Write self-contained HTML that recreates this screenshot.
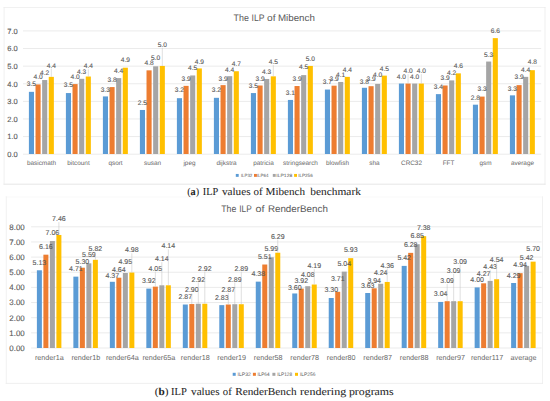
<!DOCTYPE html>
<html><head><meta charset="utf-8"><title>ILP charts</title>
<style>
html,body{margin:0;padding:0;background:#fff;width:550px;height:401px;overflow:hidden;}
svg{display:block;font-family:"Liberation Sans",sans-serif;text-rendering:geometricPrecision;}
text.v{stroke:#595959;stroke-width:0.12px;}

text.cap{stroke:#1f1f1f;stroke-width:0.06px;}
</style></head>
<body>
<svg width="550" height="401" viewBox="0 0 550 401">
<rect x="0" y="0" width="550" height="401" fill="#fff"/>
<line x1="4.1" y1="7.5" x2="545" y2="7.5" stroke="#EDEDED" stroke-width="0.8" stroke-linecap="square"/>
<line x1="545" y1="7.5" x2="545" y2="184.2" stroke="#EBEBEB" stroke-width="0.8" stroke-linecap="square"/>
<line x1="4.1" y1="184.2" x2="545" y2="184.2" stroke="#E0E0E0" stroke-width="0.8" stroke-linecap="square"/>
<line x1="4.1" y1="7.5" x2="4.1" y2="184.2" stroke="#EDEDED" stroke-width="0.8" stroke-linecap="square"/>
<line x1="23" y1="154.2" x2="541.2" y2="154.2" stroke="#EBEBEB" stroke-width="1"/>
<text class="v" x="17.7" y="157" font-size="7.5" text-anchor="end" fill="#595959">0.0</text>
<line x1="23" y1="136.59" x2="541.2" y2="136.59" stroke="#EBEBEB" stroke-width="1"/>
<text class="v" x="17.7" y="139.39" font-size="7.5" text-anchor="end" fill="#595959">1.0</text>
<line x1="23" y1="118.98" x2="541.2" y2="118.98" stroke="#EBEBEB" stroke-width="1"/>
<text class="v" x="17.7" y="121.78" font-size="7.5" text-anchor="end" fill="#595959">2.0</text>
<line x1="23" y1="101.37" x2="541.2" y2="101.37" stroke="#EBEBEB" stroke-width="1"/>
<text class="v" x="17.7" y="104.17" font-size="7.5" text-anchor="end" fill="#595959">3.0</text>
<line x1="23" y1="83.76" x2="541.2" y2="83.76" stroke="#EBEBEB" stroke-width="1"/>
<text class="v" x="17.7" y="86.56" font-size="7.5" text-anchor="end" fill="#595959">4.0</text>
<line x1="23" y1="66.15" x2="541.2" y2="66.15" stroke="#EBEBEB" stroke-width="1"/>
<text class="v" x="17.7" y="68.95" font-size="7.5" text-anchor="end" fill="#595959">5.0</text>
<line x1="23" y1="48.54" x2="541.2" y2="48.54" stroke="#EBEBEB" stroke-width="1"/>
<text class="v" x="17.7" y="51.34" font-size="7.5" text-anchor="end" fill="#595959">6.0</text>
<line x1="23" y1="30.93" x2="541.2" y2="30.93" stroke="#EBEBEB" stroke-width="1"/>
<text class="v" x="17.7" y="33.73" font-size="7.5" text-anchor="end" fill="#595959">7.0</text>
<text x="233.6" y="20.9" font-size="9.5" fill="#595959" textLength="15.29" lengthAdjust="spacingAndGlyphs">The</text>
<text x="251.6" y="20.9" font-size="9.5" fill="#595959" textLength="12.95" lengthAdjust="spacingAndGlyphs">ILP</text>
<text x="266.97" y="20.9" font-size="9.5" fill="#595959" textLength="8.51" lengthAdjust="spacingAndGlyphs">of</text>
<text x="278" y="20.9" font-size="9.5" fill="#595959" textLength="36.83" lengthAdjust="spacingAndGlyphs">Mibench</text>
<rect x="28.9" y="91.84" width="5.1" height="62.16" fill="#5B9BD5"/>
<rect x="35.52" y="84.44" width="5.1" height="69.56" fill="#ED7D31"/>
<rect x="42.14" y="80.04" width="5.1" height="73.96" fill="#A5A5A5"/>
<rect x="48.76" y="76.87" width="5.1" height="77.13" fill="#FFC000"/>
<text x="41.5" y="165.3" font-size="6.4" text-anchor="middle" fill="#686868">basicmath</text>
<rect x="65.9" y="93.07" width="5.1" height="60.93" fill="#5B9BD5"/>
<rect x="72.52" y="84.09" width="5.1" height="69.91" fill="#ED7D31"/>
<rect x="79.14" y="78.81" width="5.1" height="75.19" fill="#A5A5A5"/>
<rect x="85.76" y="76.52" width="5.1" height="77.48" fill="#FFC000"/>
<text x="78.5" y="165.3" font-size="6.4" text-anchor="middle" fill="#686868">bitcount</text>
<rect x="102.9" y="96.42" width="5.1" height="57.58" fill="#5B9BD5"/>
<rect x="109.52" y="87.08" width="5.1" height="66.92" fill="#ED7D31"/>
<rect x="116.14" y="78.1" width="5.1" height="75.9" fill="#A5A5A5"/>
<rect x="122.76" y="67.71" width="5.1" height="86.29" fill="#FFC000"/>
<text x="115.5" y="165.3" font-size="6.4" text-anchor="middle" fill="#686868">qsort</text>
<rect x="139.9" y="109.97" width="5.1" height="44.03" fill="#5B9BD5"/>
<rect x="146.52" y="70.35" width="5.1" height="83.65" fill="#ED7D31"/>
<rect x="153.14" y="66.3" width="5.1" height="87.7" fill="#A5A5A5"/>
<rect x="159.76" y="65.95" width="5.1" height="88.05" fill="#FFC000"/>
<text x="152.5" y="165.3" font-size="6.4" text-anchor="middle" fill="#686868">susan</text>
<rect x="176.9" y="98.18" width="5.1" height="55.82" fill="#5B9BD5"/>
<rect x="183.52" y="85.85" width="5.1" height="68.15" fill="#ED7D31"/>
<rect x="190.14" y="75.46" width="5.1" height="78.54" fill="#A5A5A5"/>
<rect x="196.76" y="68.42" width="5.1" height="85.58" fill="#FFC000"/>
<text x="189.5" y="165.3" font-size="6.4" text-anchor="middle" fill="#686868">jpeg</text>
<rect x="213.9" y="97.82" width="5.1" height="56.18" fill="#5B9BD5"/>
<rect x="220.52" y="85.14" width="5.1" height="68.86" fill="#ED7D31"/>
<rect x="227.14" y="76.16" width="5.1" height="77.84" fill="#A5A5A5"/>
<rect x="233.76" y="71.23" width="5.1" height="82.77" fill="#FFC000"/>
<text x="226.5" y="165.3" font-size="6.4" text-anchor="middle" fill="#686868">dijkstra</text>
<rect x="250.9" y="93.07" width="5.1" height="60.93" fill="#5B9BD5"/>
<rect x="257.52" y="85.5" width="5.1" height="68.5" fill="#ED7D31"/>
<rect x="264.14" y="78.98" width="5.1" height="75.02" fill="#A5A5A5"/>
<rect x="270.76" y="76.34" width="5.1" height="77.66" fill="#FFC000"/>
<text x="263.5" y="165.3" font-size="6.4" text-anchor="middle" fill="#686868">patricia</text>
<rect x="287.9" y="99.94" width="5.1" height="54.06" fill="#5B9BD5"/>
<rect x="294.52" y="86.03" width="5.1" height="67.97" fill="#ED7D31"/>
<rect x="301.14" y="75.11" width="5.1" height="78.89" fill="#A5A5A5"/>
<rect x="307.76" y="65.95" width="5.1" height="88.05" fill="#FFC000"/>
<text x="300.5" y="165.3" font-size="6.4" text-anchor="middle" fill="#686868">stringsearch</text>
<rect x="324.9" y="89.55" width="5.1" height="64.45" fill="#5B9BD5"/>
<rect x="331.52" y="85.67" width="5.1" height="68.33" fill="#ED7D31"/>
<rect x="338.14" y="81.98" width="5.1" height="72.02" fill="#A5A5A5"/>
<rect x="344.76" y="76.87" width="5.1" height="77.13" fill="#FFC000"/>
<text x="337.5" y="165.3" font-size="6.4" text-anchor="middle" fill="#686868">blowfish</text>
<rect x="361.9" y="87.79" width="5.1" height="66.21" fill="#5B9BD5"/>
<rect x="368.52" y="86.2" width="5.1" height="67.8" fill="#ED7D31"/>
<rect x="375.14" y="83.91" width="5.1" height="70.09" fill="#A5A5A5"/>
<rect x="381.76" y="75.64" width="5.1" height="78.36" fill="#FFC000"/>
<text x="374.5" y="165.3" font-size="6.4" text-anchor="middle" fill="#686868">sha</text>
<rect x="398.9" y="83.56" width="5.1" height="70.44" fill="#5B9BD5"/>
<rect x="405.52" y="83.56" width="5.1" height="70.44" fill="#ED7D31"/>
<rect x="412.14" y="83.56" width="5.1" height="70.44" fill="#A5A5A5"/>
<rect x="418.76" y="83.56" width="5.1" height="70.44" fill="#FFC000"/>
<text x="411.5" y="165.3" font-size="6.4" text-anchor="middle" fill="#686868">CRC32</text>
<rect x="435.9" y="94.13" width="5.1" height="59.87" fill="#5B9BD5"/>
<rect x="442.52" y="85.5" width="5.1" height="68.5" fill="#ED7D31"/>
<rect x="449.14" y="80.39" width="5.1" height="73.61" fill="#A5A5A5"/>
<rect x="455.76" y="73.35" width="5.1" height="80.65" fill="#FFC000"/>
<text x="448.5" y="165.3" font-size="6.4" text-anchor="middle" fill="#686868">FFT</text>
<rect x="472.9" y="104.69" width="5.1" height="49.31" fill="#5B9BD5"/>
<rect x="479.52" y="96.59" width="5.1" height="57.41" fill="#ED7D31"/>
<rect x="486.14" y="61.55" width="5.1" height="92.45" fill="#A5A5A5"/>
<rect x="492.76" y="38.13" width="5.1" height="115.87" fill="#FFC000"/>
<text x="485.5" y="165.3" font-size="6.4" text-anchor="middle" fill="#686868">gsm</text>
<rect x="509.9" y="95.36" width="5.1" height="58.64" fill="#5B9BD5"/>
<rect x="516.52" y="85.14" width="5.1" height="68.86" fill="#ED7D31"/>
<rect x="523.14" y="76.87" width="5.1" height="77.13" fill="#A5A5A5"/>
<rect x="529.76" y="70.18" width="5.1" height="83.82" fill="#FFC000"/>
<text x="522.5" y="165.3" font-size="6.4" text-anchor="middle" fill="#686868">average</text>
<text class="v" x="31.45" y="86.3" font-size="6.6" text-anchor="middle" fill="#595959">3.5</text>
<text class="v" x="38.07" y="79.3" font-size="6.6" text-anchor="middle" fill="#595959">4.0</text>
<text class="v" x="44.69" y="74.5" font-size="6.6" text-anchor="middle" fill="#595959">4.2</text>
<line x1="51.31" y1="68.6" x2="51.31" y2="76.87" stroke="#BFBFBF" stroke-width="0.5"/>
<text class="v" x="51.31" y="67.7" font-size="6.6" text-anchor="middle" fill="#595959">4.4</text>
<text class="v" x="68.45" y="87.3" font-size="6.6" text-anchor="middle" fill="#595959">3.5</text>
<text class="v" x="75.07" y="78.6" font-size="6.6" text-anchor="middle" fill="#595959">4.0</text>
<text class="v" x="81.69" y="74.2" font-size="6.6" text-anchor="middle" fill="#595959">4.3</text>
<line x1="88.31" y1="69.3" x2="88.31" y2="76.52" stroke="#BFBFBF" stroke-width="0.5"/>
<text class="v" x="88.31" y="68.4" font-size="6.6" text-anchor="middle" fill="#595959">4.4</text>
<text class="v" x="105.45" y="91.7" font-size="6.6" text-anchor="middle" fill="#595959">3.3</text>
<text class="v" x="112.07" y="81.5" font-size="6.6" text-anchor="middle" fill="#595959">3.8</text>
<text class="v" x="118.69" y="72.5" font-size="6.6" text-anchor="middle" fill="#595959">4.4</text>
<text class="v" x="125.31" y="62" font-size="6.6" text-anchor="middle" fill="#595959">4.9</text>
<text class="v" x="142.45" y="104.5" font-size="6.6" text-anchor="middle" fill="#595959">2.5</text>
<text class="v" x="149.07" y="65.3" font-size="6.6" text-anchor="middle" fill="#595959">4.8</text>
<text class="v" x="155.69" y="60.2" font-size="6.6" text-anchor="middle" fill="#595959">5.0</text>
<line x1="162.31" y1="47.8" x2="162.31" y2="65.95" stroke="#BFBFBF" stroke-width="0.5"/>
<text class="v" x="162.31" y="46.9" font-size="6.6" text-anchor="middle" fill="#595959">5.0</text>
<text class="v" x="179.45" y="92.1" font-size="6.6" text-anchor="middle" fill="#595959">3.2</text>
<text class="v" x="186.07" y="81" font-size="6.6" text-anchor="middle" fill="#595959">3.9</text>
<text class="v" x="192.69" y="70.4" font-size="6.6" text-anchor="middle" fill="#595959">4.5</text>
<text class="v" x="199.31" y="63.5" font-size="6.6" text-anchor="middle" fill="#595959">4.9</text>
<text class="v" x="216.45" y="92.1" font-size="6.6" text-anchor="middle" fill="#595959">3.2</text>
<text class="v" x="223.07" y="80.7" font-size="6.6" text-anchor="middle" fill="#595959">3.9</text>
<text class="v" x="229.69" y="71.5" font-size="6.6" text-anchor="middle" fill="#595959">4.4</text>
<text class="v" x="236.31" y="65.7" font-size="6.6" text-anchor="middle" fill="#595959">4.7</text>
<text class="v" x="253.45" y="88.2" font-size="6.6" text-anchor="middle" fill="#595959">3.5</text>
<text class="v" x="260.07" y="80.7" font-size="6.6" text-anchor="middle" fill="#595959">3.9</text>
<text class="v" x="266.69" y="73.7" font-size="6.6" text-anchor="middle" fill="#595959">4.3</text>
<line x1="273.31" y1="65.1" x2="273.31" y2="76.34" stroke="#BFBFBF" stroke-width="0.5"/>
<text class="v" x="273.31" y="64.2" font-size="6.6" text-anchor="middle" fill="#595959">4.5</text>
<text class="v" x="290.45" y="94.7" font-size="6.6" text-anchor="middle" fill="#595959">3.1</text>
<text class="v" x="297.07" y="80.7" font-size="6.6" text-anchor="middle" fill="#595959">3.9</text>
<text class="v" x="303.69" y="69.3" font-size="6.6" text-anchor="middle" fill="#595959">4.5</text>
<text class="v" x="310.31" y="60.6" font-size="6.6" text-anchor="middle" fill="#595959">5.0</text>
<text class="v" x="327.45" y="84.3" font-size="6.6" text-anchor="middle" fill="#595959">3.7</text>
<text class="v" x="334.07" y="80.5" font-size="6.6" text-anchor="middle" fill="#595959">3.9</text>
<text class="v" x="340.69" y="77" font-size="6.6" text-anchor="middle" fill="#595959">4.1</text>
<text class="v" x="347.31" y="71.5" font-size="6.6" text-anchor="middle" fill="#595959">4.4</text>
<text class="v" x="364.45" y="84.3" font-size="6.6" text-anchor="middle" fill="#595959">3.8</text>
<text class="v" x="371.07" y="81.4" font-size="6.6" text-anchor="middle" fill="#595959">3.9</text>
<text class="v" x="377.69" y="77.3" font-size="6.6" text-anchor="middle" fill="#595959">4.0</text>
<text class="v" x="384.31" y="71.2" font-size="6.6" text-anchor="middle" fill="#595959">4.5</text>
<text class="v" x="401.45" y="79.1" font-size="6.6" text-anchor="middle" fill="#595959">4.0</text>
<line x1="408.07" y1="74.2" x2="408.07" y2="83.56" stroke="#BFBFBF" stroke-width="0.5"/>
<text class="v" x="408.07" y="73.3" font-size="6.6" text-anchor="middle" fill="#595959">4.0</text>
<text class="v" x="414.69" y="79.1" font-size="6.6" text-anchor="middle" fill="#595959">4.0</text>
<line x1="421.31" y1="74.2" x2="421.31" y2="83.56" stroke="#BFBFBF" stroke-width="0.5"/>
<text class="v" x="421.31" y="73.3" font-size="6.6" text-anchor="middle" fill="#595959">4.0</text>
<text class="v" x="438.45" y="89" font-size="6.6" text-anchor="middle" fill="#595959">3.4</text>
<text class="v" x="445.07" y="80.2" font-size="6.6" text-anchor="middle" fill="#595959">3.9</text>
<text class="v" x="451.69" y="74.9" font-size="6.6" text-anchor="middle" fill="#595959">4.2</text>
<text class="v" x="458.31" y="67.6" font-size="6.6" text-anchor="middle" fill="#595959">4.6</text>
<text class="v" x="475.45" y="100.1" font-size="6.6" text-anchor="middle" fill="#595959">2.8</text>
<text class="v" x="482.07" y="91" font-size="6.6" text-anchor="middle" fill="#595959">3.3</text>
<text class="v" x="488.69" y="57" font-size="6.6" text-anchor="middle" fill="#595959">5.3</text>
<text class="v" x="495.31" y="33.1" font-size="6.6" text-anchor="middle" fill="#595959">6.6</text>
<text class="v" x="512.45" y="90.5" font-size="6.6" text-anchor="middle" fill="#595959">3.3</text>
<text class="v" x="519.07" y="79.3" font-size="6.6" text-anchor="middle" fill="#595959">3.9</text>
<text class="v" x="525.69" y="72.1" font-size="6.6" text-anchor="middle" fill="#595959">4.4</text>
<text class="v" x="532.31" y="64.4" font-size="6.6" text-anchor="middle" fill="#595959">4.8</text>
<rect x="235.8" y="173.95" width="2.9" height="2.9" fill="#5B9BD5"/>
<text x="240.9" y="177.46" font-size="4.6" fill="#595959" textLength="11.32" lengthAdjust="spacingAndGlyphs">ILP32</text>
<rect x="254" y="173.95" width="2.9" height="2.9" fill="#ED7D31"/>
<text x="256.79" y="177.46" font-size="4.6" fill="#595959" textLength="11.64" lengthAdjust="spacingAndGlyphs">ILP64</text>
<rect x="272.8" y="173.95" width="2.9" height="2.9" fill="#A5A5A5"/>
<text x="276.34" y="177.46" font-size="4.6" fill="#595959" textLength="15.88" lengthAdjust="spacingAndGlyphs">ILP128</text>
<rect x="294.1" y="173.95" width="2.9" height="2.9" fill="#FFC000"/>
<text x="298.18" y="177.46" font-size="4.6" fill="#595959" textLength="14.52" lengthAdjust="spacingAndGlyphs">ILP256</text>
<line x1="6.3" y1="196.9" x2="542.5" y2="196.9" stroke="#F7F7F7" stroke-width="0.8" stroke-linecap="square"/>
<line x1="542.5" y1="196.9" x2="542.5" y2="383.4" stroke="#EDEDED" stroke-width="0.8" stroke-linecap="square"/>
<line x1="6.3" y1="383.4" x2="542.5" y2="383.4" stroke="#EBEBEB" stroke-width="0.8" stroke-linecap="square"/>
<line x1="6.3" y1="196.9" x2="6.3" y2="383.4" stroke="#EDEDED" stroke-width="0.8" stroke-linecap="square"/>
<line x1="31.1" y1="348" x2="541.6" y2="348" stroke="#EBEBEB" stroke-width="1"/>
<text class="v" x="24.7" y="350.94" font-size="7.9" text-anchor="end" fill="#595959">0.00</text>
<line x1="31.1" y1="332.85" x2="541.6" y2="332.85" stroke="#EBEBEB" stroke-width="1"/>
<text class="v" x="24.7" y="335.79" font-size="7.9" text-anchor="end" fill="#595959">1.00</text>
<line x1="31.1" y1="317.7" x2="541.6" y2="317.7" stroke="#EBEBEB" stroke-width="1"/>
<text class="v" x="24.7" y="320.64" font-size="7.9" text-anchor="end" fill="#595959">2.00</text>
<line x1="31.1" y1="302.55" x2="541.6" y2="302.55" stroke="#EBEBEB" stroke-width="1"/>
<text class="v" x="24.7" y="305.49" font-size="7.9" text-anchor="end" fill="#595959">3.00</text>
<line x1="31.1" y1="287.4" x2="541.6" y2="287.4" stroke="#EBEBEB" stroke-width="1"/>
<text class="v" x="24.7" y="290.34" font-size="7.9" text-anchor="end" fill="#595959">4.00</text>
<line x1="31.1" y1="272.25" x2="541.6" y2="272.25" stroke="#EBEBEB" stroke-width="1"/>
<text class="v" x="24.7" y="275.19" font-size="7.9" text-anchor="end" fill="#595959">5.00</text>
<line x1="31.1" y1="257.1" x2="541.6" y2="257.1" stroke="#EBEBEB" stroke-width="1"/>
<text class="v" x="24.7" y="260.04" font-size="7.9" text-anchor="end" fill="#595959">6.00</text>
<line x1="31.1" y1="241.95" x2="541.6" y2="241.95" stroke="#EBEBEB" stroke-width="1"/>
<text class="v" x="24.7" y="244.89" font-size="7.9" text-anchor="end" fill="#595959">7.00</text>
<line x1="31.1" y1="226.8" x2="541.6" y2="226.8" stroke="#EBEBEB" stroke-width="1"/>
<text class="v" x="24.7" y="229.74" font-size="7.9" text-anchor="end" fill="#595959">8.00</text>
<text x="221.3" y="212.3" font-size="9.6" fill="#595959" textLength="14.98" lengthAdjust="spacingAndGlyphs">The</text>
<text x="239.34" y="212.3" font-size="9.6" fill="#595959" textLength="12.4" lengthAdjust="spacingAndGlyphs">ILP</text>
<text x="255.55" y="212.3" font-size="9.6" fill="#595959" textLength="8.93" lengthAdjust="spacingAndGlyphs">of</text>
<text x="267.9" y="212.3" font-size="9.6" fill="#595959" textLength="59.94" lengthAdjust="spacingAndGlyphs">RenderBench</text>
<rect x="36.89" y="270.28" width="5" height="77.72" fill="#5B9BD5"/>
<rect x="43.39" y="254.68" width="5" height="93.32" fill="#ED7D31"/>
<rect x="49.89" y="241.04" width="5" height="106.96" fill="#A5A5A5"/>
<rect x="56.39" y="234.98" width="5" height="113.02" fill="#FFC000"/>
<text x="49.34" y="359.8" font-size="7.2" text-anchor="middle" fill="#686868">render1a</text>
<rect x="73.37" y="276.64" width="5" height="71.36" fill="#5B9BD5"/>
<rect x="79.87" y="267.7" width="5" height="80.3" fill="#ED7D31"/>
<rect x="86.37" y="263.31" width="5" height="84.69" fill="#A5A5A5"/>
<rect x="92.87" y="259.83" width="5" height="88.17" fill="#FFC000"/>
<text x="85.82" y="359.8" font-size="7.2" text-anchor="middle" fill="#686868">render1b</text>
<rect x="109.85" y="281.79" width="5" height="66.21" fill="#5B9BD5"/>
<rect x="116.35" y="277.7" width="5" height="70.3" fill="#ED7D31"/>
<rect x="122.85" y="273.01" width="5" height="74.99" fill="#A5A5A5"/>
<rect x="129.35" y="272.55" width="5" height="75.45" fill="#FFC000"/>
<text x="122.3" y="359.8" font-size="7.2" text-anchor="middle" fill="#686868">render64a</text>
<rect x="146.33" y="288.61" width="5" height="59.39" fill="#5B9BD5"/>
<rect x="152.83" y="286.64" width="5" height="61.36" fill="#ED7D31"/>
<rect x="159.33" y="285.28" width="5" height="62.72" fill="#A5A5A5"/>
<rect x="165.83" y="285.28" width="5" height="62.72" fill="#FFC000"/>
<text x="158.78" y="359.8" font-size="7.2" text-anchor="middle" fill="#686868">render65a</text>
<rect x="182.81" y="304.52" width="5" height="43.48" fill="#5B9BD5"/>
<rect x="189.31" y="304.06" width="5" height="43.94" fill="#ED7D31"/>
<rect x="195.81" y="303.76" width="5" height="44.24" fill="#A5A5A5"/>
<rect x="202.31" y="303.76" width="5" height="44.24" fill="#FFC000"/>
<text x="195.26" y="359.8" font-size="7.2" text-anchor="middle" fill="#686868">render18</text>
<rect x="219.29" y="305.13" width="5" height="42.87" fill="#5B9BD5"/>
<rect x="225.79" y="304.52" width="5" height="43.48" fill="#ED7D31"/>
<rect x="232.29" y="304.22" width="5" height="43.78" fill="#A5A5A5"/>
<rect x="238.79" y="304.22" width="5" height="43.78" fill="#FFC000"/>
<text x="231.74" y="359.8" font-size="7.2" text-anchor="middle" fill="#686868">render19</text>
<rect x="255.77" y="281.64" width="5" height="66.36" fill="#5B9BD5"/>
<rect x="262.27" y="264.52" width="5" height="83.48" fill="#ED7D31"/>
<rect x="268.77" y="257.25" width="5" height="90.75" fill="#A5A5A5"/>
<rect x="275.27" y="252.71" width="5" height="95.29" fill="#FFC000"/>
<text x="268.22" y="359.8" font-size="7.2" text-anchor="middle" fill="#686868">render58</text>
<rect x="292.25" y="293.46" width="5" height="54.54" fill="#5B9BD5"/>
<rect x="298.75" y="288.61" width="5" height="59.39" fill="#ED7D31"/>
<rect x="305.25" y="286.19" width="5" height="61.81" fill="#A5A5A5"/>
<rect x="311.75" y="284.52" width="5" height="63.48" fill="#FFC000"/>
<text x="304.7" y="359.8" font-size="7.2" text-anchor="middle" fill="#686868">render78</text>
<rect x="328.73" y="298" width="5" height="50" fill="#5B9BD5"/>
<rect x="335.23" y="291.79" width="5" height="56.21" fill="#ED7D31"/>
<rect x="341.73" y="271.64" width="5" height="76.36" fill="#A5A5A5"/>
<rect x="348.23" y="258.16" width="5" height="89.84" fill="#FFC000"/>
<text x="341.18" y="359.8" font-size="7.2" text-anchor="middle" fill="#686868">render80</text>
<rect x="365.21" y="293.01" width="5" height="54.99" fill="#5B9BD5"/>
<rect x="371.71" y="288.31" width="5" height="59.69" fill="#ED7D31"/>
<rect x="378.21" y="283.76" width="5" height="64.24" fill="#A5A5A5"/>
<rect x="384.71" y="281.95" width="5" height="66.05" fill="#FFC000"/>
<text x="377.66" y="359.8" font-size="7.2" text-anchor="middle" fill="#686868">render87</text>
<rect x="401.69" y="265.89" width="5" height="82.11" fill="#5B9BD5"/>
<rect x="408.19" y="252.86" width="5" height="95.14" fill="#ED7D31"/>
<rect x="414.69" y="244.22" width="5" height="103.78" fill="#A5A5A5"/>
<rect x="421.19" y="236.19" width="5" height="111.81" fill="#FFC000"/>
<text x="414.14" y="359.8" font-size="7.2" text-anchor="middle" fill="#686868">render88</text>
<rect x="438.17" y="301.94" width="5" height="46.06" fill="#5B9BD5"/>
<rect x="444.67" y="301.19" width="5" height="46.81" fill="#ED7D31"/>
<rect x="451.17" y="301.19" width="5" height="46.81" fill="#A5A5A5"/>
<rect x="457.67" y="301.19" width="5" height="46.81" fill="#FFC000"/>
<text x="450.62" y="359.8" font-size="7.2" text-anchor="middle" fill="#686868">render97</text>
<rect x="474.65" y="287.4" width="5" height="60.6" fill="#5B9BD5"/>
<rect x="481.15" y="283.31" width="5" height="64.69" fill="#ED7D31"/>
<rect x="487.65" y="280.89" width="5" height="67.11" fill="#A5A5A5"/>
<rect x="494.15" y="279.22" width="5" height="68.78" fill="#FFC000"/>
<text x="487.1" y="359.8" font-size="7.2" text-anchor="middle" fill="#686868">render117</text>
<rect x="511.13" y="283.01" width="5" height="64.99" fill="#5B9BD5"/>
<rect x="517.63" y="273.16" width="5" height="74.84" fill="#ED7D31"/>
<rect x="524.13" y="265.89" width="5" height="82.11" fill="#A5A5A5"/>
<rect x="530.63" y="261.64" width="5" height="86.36" fill="#FFC000"/>
<text x="523.58" y="359.8" font-size="7.2" text-anchor="middle" fill="#686868">average</text>
<text class="v" x="39.39" y="264.6" font-size="7" text-anchor="middle" fill="#595959">5.13</text>
<text class="v" x="45.89" y="248.8" font-size="7" text-anchor="middle" fill="#595959">6.16</text>
<text class="v" x="52.39" y="234.6" font-size="7" text-anchor="middle" fill="#595959">7.06</text>
<line x1="58.89" y1="222.1" x2="58.89" y2="234.98" stroke="#BFBFBF" stroke-width="0.5"/>
<text class="v" x="58.89" y="221.1" font-size="7" text-anchor="middle" fill="#595959">7.46</text>
<text class="v" x="75.87" y="270.9" font-size="7" text-anchor="middle" fill="#595959">4.71</text>
<text class="v" x="82.37" y="264" font-size="7" text-anchor="middle" fill="#595959">5.30</text>
<text class="v" x="88.87" y="257.1" font-size="7" text-anchor="middle" fill="#595959">5.59</text>
<line x1="95.37" y1="252.2" x2="95.37" y2="259.83" stroke="#BFBFBF" stroke-width="0.5"/>
<text class="v" x="95.37" y="251.2" font-size="7" text-anchor="middle" fill="#595959">5.82</text>
<text class="v" x="112.35" y="278.2" font-size="7" text-anchor="middle" fill="#595959">4.37</text>
<text class="v" x="118.85" y="272.1" font-size="7" text-anchor="middle" fill="#595959">4.64</text>
<text class="v" x="125.35" y="264.4" font-size="7" text-anchor="middle" fill="#595959">4.95</text>
<line x1="131.85" y1="253.3" x2="131.85" y2="272.55" stroke="#BFBFBF" stroke-width="0.5"/>
<text class="v" x="131.85" y="252.3" font-size="7" text-anchor="middle" fill="#595959">4.98</text>
<text class="v" x="148.83" y="283" font-size="7" text-anchor="middle" fill="#595959">3.92</text>
<line x1="155.33" y1="271.7" x2="155.33" y2="286.64" stroke="#BFBFBF" stroke-width="0.5"/>
<text class="v" x="155.33" y="270.7" font-size="7" text-anchor="middle" fill="#595959">4.05</text>
<line x1="161.83" y1="262.1" x2="161.83" y2="285.28" stroke="#BFBFBF" stroke-width="0.5"/>
<text class="v" x="161.83" y="261.1" font-size="7" text-anchor="middle" fill="#595959">4.14</text>
<line x1="168.33" y1="249.3" x2="168.33" y2="285.28" stroke="#BFBFBF" stroke-width="0.5"/>
<text class="v" x="168.33" y="248.3" font-size="7" text-anchor="middle" fill="#595959">4.14</text>
<text class="v" x="185.31" y="298.9" font-size="7" text-anchor="middle" fill="#595959">2.87</text>
<line x1="191.81" y1="293.4" x2="191.81" y2="304.06" stroke="#BFBFBF" stroke-width="0.5"/>
<text class="v" x="191.81" y="292.4" font-size="7" text-anchor="middle" fill="#595959">2.90</text>
<line x1="198.31" y1="282.5" x2="198.31" y2="303.76" stroke="#BFBFBF" stroke-width="0.5"/>
<text class="v" x="198.31" y="281.5" font-size="7" text-anchor="middle" fill="#595959">2.92</text>
<line x1="204.81" y1="271.5" x2="204.81" y2="303.76" stroke="#BFBFBF" stroke-width="0.5"/>
<text class="v" x="204.81" y="270.5" font-size="7" text-anchor="middle" fill="#595959">2.92</text>
<text class="v" x="221.79" y="299.7" font-size="7" text-anchor="middle" fill="#595959">2.83</text>
<line x1="228.29" y1="292.9" x2="228.29" y2="304.52" stroke="#BFBFBF" stroke-width="0.5"/>
<text class="v" x="228.29" y="291.9" font-size="7" text-anchor="middle" fill="#595959">2.87</text>
<line x1="234.79" y1="282.5" x2="234.79" y2="304.22" stroke="#BFBFBF" stroke-width="0.5"/>
<text class="v" x="234.79" y="281.5" font-size="7" text-anchor="middle" fill="#595959">2.89</text>
<line x1="241.29" y1="271.8" x2="241.29" y2="304.22" stroke="#BFBFBF" stroke-width="0.5"/>
<text class="v" x="241.29" y="270.8" font-size="7" text-anchor="middle" fill="#595959">2.89</text>
<text class="v" x="258.27" y="275.7" font-size="7" text-anchor="middle" fill="#595959">4.38</text>
<text class="v" x="264.77" y="259.1" font-size="7" text-anchor="middle" fill="#595959">5.51</text>
<text class="v" x="271.27" y="251" font-size="7" text-anchor="middle" fill="#595959">5.99</text>
<line x1="277.77" y1="239.6" x2="277.77" y2="252.71" stroke="#BFBFBF" stroke-width="0.5"/>
<text class="v" x="277.77" y="238.6" font-size="7" text-anchor="middle" fill="#595959">6.29</text>
<text class="v" x="294.75" y="289.5" font-size="7" text-anchor="middle" fill="#595959">3.60</text>
<text class="v" x="301.25" y="282.5" font-size="7" text-anchor="middle" fill="#595959">3.92</text>
<text class="v" x="307.75" y="277.1" font-size="7" text-anchor="middle" fill="#595959">4.08</text>
<line x1="314.25" y1="269" x2="314.25" y2="284.52" stroke="#BFBFBF" stroke-width="0.5"/>
<text class="v" x="314.25" y="268" font-size="7" text-anchor="middle" fill="#595959">4.19</text>
<text class="v" x="331.23" y="292.1" font-size="7" text-anchor="middle" fill="#595959">3.30</text>
<text class="v" x="337.73" y="281.2" font-size="7" text-anchor="middle" fill="#595959">3.71</text>
<text class="v" x="344.23" y="265.7" font-size="7" text-anchor="middle" fill="#595959">5.04</text>
<text class="v" x="350.73" y="252.4" font-size="7" text-anchor="middle" fill="#595959">5.93</text>
<text class="v" x="367.71" y="287.7" font-size="7" text-anchor="middle" fill="#595959">3.63</text>
<text class="v" x="374.21" y="282.9" font-size="7" text-anchor="middle" fill="#595959">3.94</text>
<text class="v" x="380.71" y="274.8" font-size="7" text-anchor="middle" fill="#595959">4.24</text>
<line x1="387.21" y1="268.5" x2="387.21" y2="281.95" stroke="#BFBFBF" stroke-width="0.5"/>
<text class="v" x="387.21" y="267.5" font-size="7" text-anchor="middle" fill="#595959">4.36</text>
<text class="v" x="404.19" y="260.1" font-size="7" text-anchor="middle" fill="#595959">5.42</text>
<text class="v" x="410.69" y="247.2" font-size="7" text-anchor="middle" fill="#595959">6.28</text>
<text class="v" x="417.19" y="238.4" font-size="7" text-anchor="middle" fill="#595959">6.85</text>
<text class="v" x="423.69" y="229.8" font-size="7" text-anchor="middle" fill="#595959">7.38</text>
<text class="v" x="440.67" y="296" font-size="7" text-anchor="middle" fill="#595959">3.04</text>
<line x1="447.17" y1="284" x2="447.17" y2="301.19" stroke="#BFBFBF" stroke-width="0.5"/>
<text class="v" x="447.17" y="283" font-size="7" text-anchor="middle" fill="#595959">3.09</text>
<line x1="453.67" y1="273.8" x2="453.67" y2="301.19" stroke="#BFBFBF" stroke-width="0.5"/>
<text class="v" x="453.67" y="272.8" font-size="7" text-anchor="middle" fill="#595959">3.09</text>
<line x1="460.17" y1="264.6" x2="460.17" y2="301.19" stroke="#BFBFBF" stroke-width="0.5"/>
<text class="v" x="460.17" y="263.6" font-size="7" text-anchor="middle" fill="#595959">3.09</text>
<text class="v" x="477.15" y="282" font-size="7" text-anchor="middle" fill="#595959">4.00</text>
<text class="v" x="483.65" y="276" font-size="7" text-anchor="middle" fill="#595959">4.27</text>
<line x1="490.15" y1="269.7" x2="490.15" y2="280.89" stroke="#BFBFBF" stroke-width="0.5"/>
<text class="v" x="490.15" y="268.7" font-size="7" text-anchor="middle" fill="#595959">4.43</text>
<line x1="496.65" y1="262.5" x2="496.65" y2="279.22" stroke="#BFBFBF" stroke-width="0.5"/>
<text class="v" x="496.65" y="261.5" font-size="7" text-anchor="middle" fill="#595959">4.54</text>
<text class="v" x="513.63" y="277.6" font-size="7" text-anchor="middle" fill="#595959">4.29</text>
<text class="v" x="520.13" y="267.4" font-size="7" text-anchor="middle" fill="#595959">4.94</text>
<text class="v" x="526.63" y="259.8" font-size="7" text-anchor="middle" fill="#595959">5.42</text>
<text class="v" x="533.13" y="250.7" font-size="7" text-anchor="middle" fill="#595959">5.70</text>
<rect x="232.7" y="372.8" width="3" height="3" fill="#5B9BD5"/>
<text x="237.53" y="376.44" font-size="5.1" fill="#595959" textLength="13.33" lengthAdjust="spacingAndGlyphs">ILP32</text>
<rect x="252.9" y="372.8" width="3" height="3" fill="#ED7D31"/>
<text x="257.48" y="376.44" font-size="5.1" fill="#595959" textLength="11.96" lengthAdjust="spacingAndGlyphs">ILP64</text>
<rect x="272.4" y="372.8" width="3" height="3" fill="#A5A5A5"/>
<text x="277.16" y="376.44" font-size="5.1" fill="#595959" textLength="14.94" lengthAdjust="spacingAndGlyphs">ILP128</text>
<rect x="295" y="372.8" width="3" height="3" fill="#FFC000"/>
<text x="299.95" y="376.44" font-size="5.1" fill="#595959" textLength="15.46" lengthAdjust="spacingAndGlyphs">ILP256</text>
<text class="cap" x="187.13" y="194.8" font-family="Liberation Serif, serif" font-size="10.6" fill="#1f1f1f" textLength="11.95" lengthAdjust="spacingAndGlyphs">(<tspan font-weight="bold">a</tspan>)</text>
<text class="cap" x="202.73" y="194.8" font-family="Liberation Serif, serif" font-size="10.6" fill="#1f1f1f" textLength="15.49" lengthAdjust="spacingAndGlyphs">ILP</text>
<text class="cap" x="221.9" y="194.8" font-family="Liberation Serif, serif" font-size="10.6" fill="#1f1f1f" textLength="28.71" lengthAdjust="spacingAndGlyphs">values</text>
<text class="cap" x="253.58" y="194.8" font-family="Liberation Serif, serif" font-size="10.6" fill="#1f1f1f" textLength="9.12" lengthAdjust="spacingAndGlyphs">of</text>
<text class="cap" x="265.48" y="194.8" font-family="Liberation Serif, serif" font-size="10.6" fill="#1f1f1f" textLength="39.67" lengthAdjust="spacingAndGlyphs">Mibench</text>
<text class="cap" x="310.2" y="194.8" font-family="Liberation Serif, serif" font-size="10.6" fill="#1f1f1f" textLength="50.7" lengthAdjust="spacingAndGlyphs">benchmark</text>
<text class="cap" x="154.88" y="394.9" font-family="Liberation Serif, serif" font-size="10.6" fill="#1f1f1f" textLength="13.74" lengthAdjust="spacingAndGlyphs">(<tspan font-weight="bold">b</tspan>)</text>
<text class="cap" x="171.02" y="394.9" font-family="Liberation Serif, serif" font-size="10.6" fill="#1f1f1f" textLength="15.8" lengthAdjust="spacingAndGlyphs">ILP</text>
<text class="cap" x="191.1" y="394.9" font-family="Liberation Serif, serif" font-size="10.6" fill="#1f1f1f" textLength="28.5" lengthAdjust="spacingAndGlyphs">values</text>
<text class="cap" x="222.79" y="394.9" font-family="Liberation Serif, serif" font-size="10.6" fill="#1f1f1f" textLength="8.91" lengthAdjust="spacingAndGlyphs">of</text>
<text class="cap" x="235.18" y="394.9" font-family="Liberation Serif, serif" font-size="10.6" fill="#1f1f1f" textLength="61.37" lengthAdjust="spacingAndGlyphs">RenderBench</text>
<text class="cap" x="300.06" y="394.9" font-family="Liberation Serif, serif" font-size="10.6" fill="#1f1f1f" textLength="46.17" lengthAdjust="spacingAndGlyphs">rendering</text>
<text class="cap" x="348.91" y="394.9" font-family="Liberation Serif, serif" font-size="10.6" fill="#1f1f1f" textLength="44.82" lengthAdjust="spacingAndGlyphs">programs</text>
</svg>
</body></html>
